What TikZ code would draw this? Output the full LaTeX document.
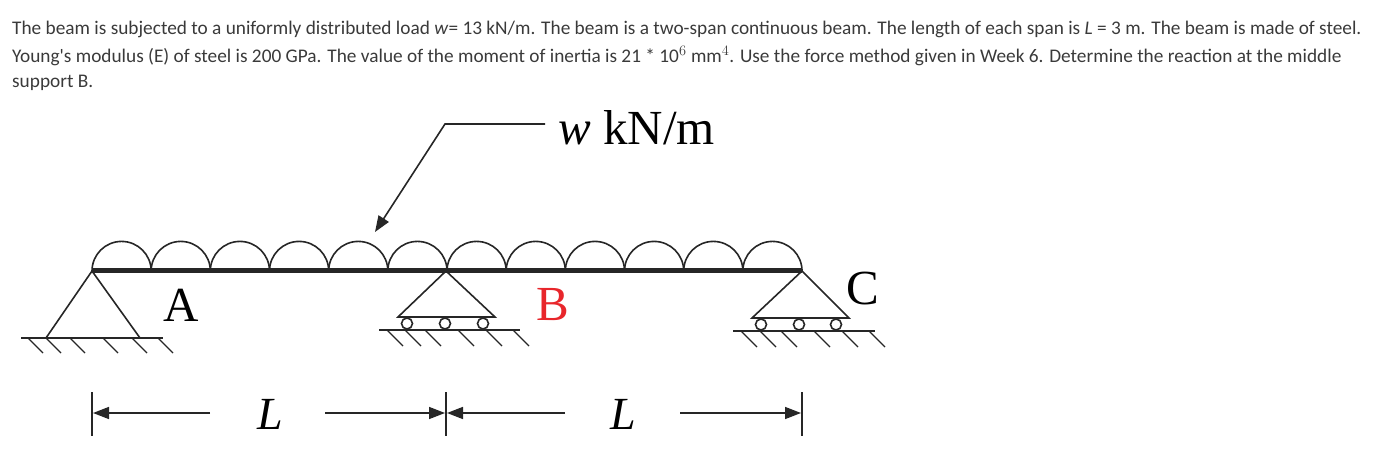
\documentclass[tikz,border=0pt]{standalone}
\usepackage{fontspec}
\setmainfont{Liberation Serif}
\newfontfamily\txtfont{Carlito}
\usetikzlibrary{arrows.meta}
\definecolor{txtc}{HTML}{3A3A3A}
\definecolor{bred}{HTML}{E8262B}
\begin{document}
\begin{tikzpicture}[x=1pt,y=-1pt,
  ln/.style={line width=1.6pt,draw=black!85},
  hatch/.style={line width=1.3pt,draw=black!85},
  para/.style={anchor=west,inner sep=0,font=\txtfont\fontsize{19.3}{22}\selectfont,text=txtc},
  lab/.style={inner sep=0,font=\fontsize{49}{52}\selectfont},
  dimarrow/.style={ln,-{Triangle[length=16pt,width=12pt]}}]
\useasboundingbox (0,0) rectangle (1385,473);
\node[para] (t1) at (12,29) {The beam is subjected to a uniformly distributed load \textit{w}= 13 kN/m. The beam is a two-span continuous beam. The length of each span is \textit{L} = 3 m. The beam is made of steel.};
\node[para] (t2) at (12,56) {Young's modulus (E) of steel is 200 GPa. The value of the moment of inertia is 21 * 10$^{6}$ mm$^{4}$. Use the force method given in Week 6. Determine the reaction at the middle};
\node[para] (t3) at (12,83) {support B.};
% beam
\coordinate (A) at (92,271);
\coordinate (B) at (446,271);
\coordinate (C) at (802,271);
\draw[line width=5pt,draw=black!85] (A) -- (C);
\foreach \i in {0,...,11}{
  \draw[ln] ({92+\i*59.17},271) arc[start angle=180,end angle=360,radius=29.58];
}
% support A
\draw[ln] (46,338) -- (A) -- (140,338);
\draw[ln] (21,338) -- (163,338);
\foreach \x in {28,46,70,103,132,158}{\draw[hatch] (\x,338) -- ++(15,15);}
% support B
\draw[ln] (398,317) -- (B) -- (495,317) -- cycle;
\foreach \x in {407,445,483}{\draw[ln] (\x,323.5) circle[radius=5.5];}
\draw[ln] (379,330) -- (520,330);
\foreach \x in {387,405,425,458,486,513}{\draw[hatch] (\x,330) -- ++(16,16);}
% support C
\draw[ln] (752,318) -- (C) -- (849,318) -- cycle;
\foreach \x in {761,799,836}{\draw[ln] (\x,324.5) circle[radius=5.5];}
\draw[ln] (733,331) -- (875,331);
\foreach \x in {741,760,781,814,842,869}{\draw[hatch] (\x,331) -- ++(16,16);}
% labels
\node[lab] (la) at (181,305) {A};
\node[lab,text=bred] (lb) at (553,305) {B};
\node[lab] (lc) at (863,289) {C};
\node[lab,anchor=west] (lw) at (558,128) {\textit{w} kN/m};
\coordinate (w1) at (545,124);
\coordinate (w2) at (445,124);
\coordinate (w3) at (375,232);
\draw[ln,-{Triangle[length=16pt,width=12pt]}] (w1) -- (w2) -- (w3);
% dimensions
\foreach \x in {92,446,802}{\draw[ln] (\x,392) -- (\x,436);}
\node[lab,font=\itshape\fontsize{46}{50}\selectfont] (L1) at (270,414) {L};
\node[lab,font=\itshape\fontsize{46}{50}\selectfont] (L2) at (623,414) {L};
\coordinate (d1) at (210,413); \coordinate (d1e) at (93,413);
\coordinate (d2) at (325,413); \coordinate (d2e) at (445,413);
\coordinate (d3) at (565,413); \coordinate (d3e) at (447,413);
\coordinate (d4) at (680,413); \coordinate (d4e) at (801,413);
\draw[dimarrow] (d1) -- (d1e);
\draw[dimarrow] (d2) -- (d2e);
\draw[dimarrow] (d3) -- (d3e);
\draw[dimarrow] (d4) -- (d4e);
\end{tikzpicture}
\end{document}
